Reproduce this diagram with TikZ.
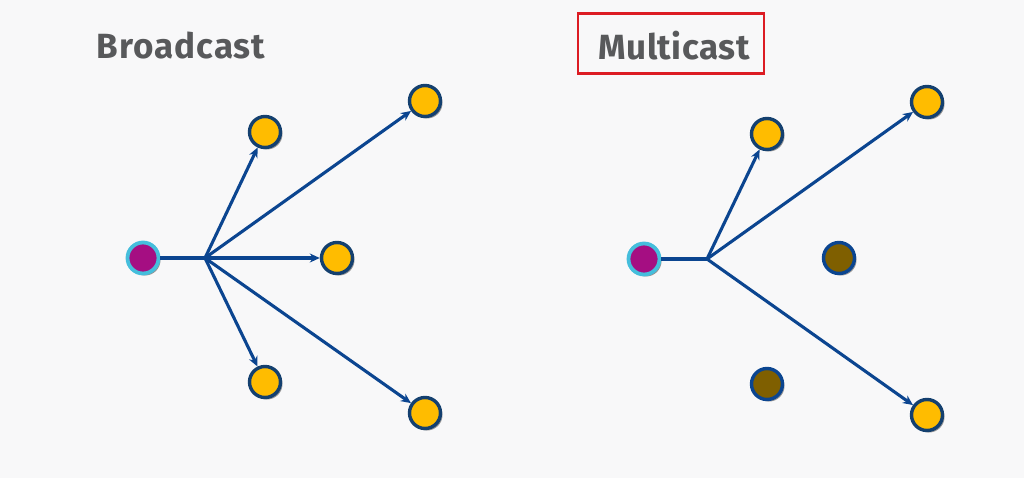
\documentclass[tikz,border=0pt]{standalone}
\usepackage{fontspec}
\setmainfont{Fira Sans}
\usetikzlibrary{arrows.meta,shadows}
\definecolor{bgc}{HTML}{F8F8F9}
\definecolor{linec}{HTML}{0B4590}
\definecolor{ringd}{HTML}{14406F}
\definecolor{gold}{HTML}{FFBC00}
\definecolor{brownc}{HTML}{7F5F00}
\definecolor{purp}{HTML}{A50E82}
\definecolor{cyanr}{HTML}{45BEDC}
\definecolor{titlec}{HTML}{58595B}
\definecolor{redb}{HTML}{DC1C23}
\tikzset{
  soft/.style={drop shadow={shadow xshift=2pt,shadow yshift=-2pt,opacity=0.4,fill=black}},
  dest/.style={circle,draw=ringd,line width=3.4pt,fill=gold,minimum size=31pt,inner sep=0pt,soft},
  off/.style={circle,draw=linec,line width=3.4pt,fill=brownc,minimum size=31pt,inner sep=0pt,soft},
  src/.style={circle,draw=cyanr,line width=3.8pt,fill=purp,minimum size=31pt,inner sep=0pt,soft},
  link/.style={draw=linec,line width=3.1pt},
  arr/.style={link,-{Stealth[length=10pt,width=9pt]}},
  ttl/.style={text=titlec,font=\fontsize{35}{38}\selectfont\bfseries,inner sep=0pt,anchor=center},
}
\begin{document}
\begin{tikzpicture}[x=1pt,y=-1pt]
\useasboundingbox[fill=bgc] (0,0) rectangle (1024,478);
\node[ttl] (t1) at (181,46) {\addfontfeature{LetterSpace=3}Broadcast};
\node[draw=redb,line width=2.4pt,minimum width=186pt,minimum height=60pt,inner sep=0pt] (box) at (671,43.5) {};
\node[ttl] (t2) at (674,46) {\addfontfeature{LetterSpace=1.5}Multicast};
% Broadcast
\coordinate (j1) at (205,258);
\node[src] (s1) at (143,258) {};
\node[dest] (a1) at (265,132) {};
\node[dest] (a2) at (425,101) {};
\node[dest] (a3) at (337,258) {};
\node[dest] (a4) at (265,382) {};
\node[dest] (a5) at (425,413) {};
\draw[link] (s1) -- (j1);
\foreach \n in {a1,a2,a3,a4,a5} \draw[arr] (j1) -- (\n);
% Multicast
\coordinate (j2) at (707,259);
\node[src] (s2) at (644,259) {};
\node[dest] (b1) at (767,134) {};
\node[dest] (b2) at (927,102) {};
\node[off] (b3) at (839,258) {};
\node[off] (b4) at (767,384) {};
\node[dest] (b5) at (927,415) {};
\draw[link] (s2) -- (j2);
\foreach \n in {b1,b2,b5} \draw[arr] (j2) -- (\n);
\end{tikzpicture}
\end{document}
